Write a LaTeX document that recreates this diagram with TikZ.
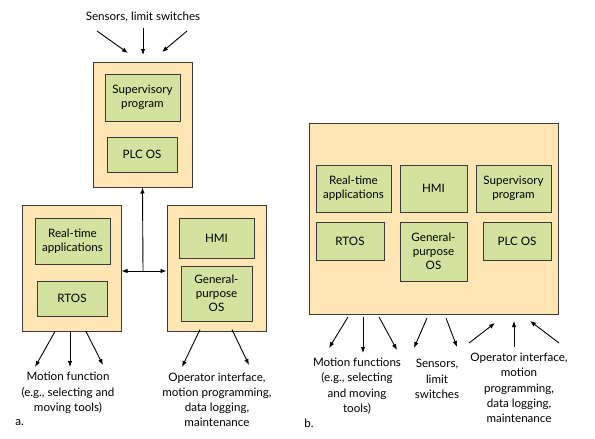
\documentclass[tikz,border=0pt]{standalone}
\usepackage{fontspec}
\setmainfont{Lato}
\usetikzlibrary{arrows.meta}

\definecolor{boxbeige}{HTML}{FFE6B4}
\definecolor{boxgreen}{HTML}{D3E29E}
\definecolor{edgegray}{HTML}{3A3A3A}

\begin{document}
\begin{tikzpicture}[x=1pt, y=-1pt, thick,
                    outer box/.style={draw=edgegray, line width=1pt, fill=boxbeige, inner sep=0pt},
                    inner box/.style={draw=edgegray, line width=1pt, fill=boxgreen, align=center, inner sep=0pt,
                                      font=\fontsize{11.6}{14}\selectfont},
                    label text/.style={align=center, inner sep=0pt, font=\fontsize{11.6}{15.2}\selectfont},
                    arr/.style={-{Latex[length=6pt,width=4.5pt]}, line width=0.9pt, draw=black}]

  \useasboundingbox (0,0) rectangle (595,439);

  % a. three separate controllers
  \node[outer box, minimum width=99pt, minimum height=125pt] (supbox) at (142.5,124.5) {};
  \node[inner box, minimum width=75pt, minimum height=47pt] (supprog) at (142.5,97.5) {Supervisory\\program};
  \node[inner box, minimum width=70pt, minimum height=35pt] (plcos) at (142,154.5) {PLC OS};

  \node[outer box, minimum width=99pt, minimum height=126pt] (rtbox) at (71.5,268) {};
  \node[inner box, minimum width=75pt, minimum height=46pt] (rtapp) at (72.5,241) {Real-time\\applications};
  \node[inner box, minimum width=70pt, minimum height=35pt] (rtos) at (72,298.5) {RTOS};

  \node[outer box, minimum width=99pt, minimum height=126pt] (gpbox) at (216.5,268) {};
  \node[inner box, minimum width=75pt, minimum height=40pt] (hmi) at (216.5,238) {HMI};
  \node[inner box, minimum width=71pt, minimum height=55pt] (gpos) at (216.5,293.5) {General-\\purpose\\OS};

  \coordinate (bus) at (143,271);
  \draw[arr] (bus) -- (supbox.south);
  \draw[arr, {Latex[length=6pt,width=4.5pt]}-{Latex[length=6pt,width=4.5pt]}] (rtbox.east |- bus) -- (gpbox.west |- bus);

  \node[label text] (sensa) at (143,17) {Sensors, limit switches};
  \coordinate (sa1) at (97,31);  \coordinate (ta1) at (128,53);
  \coordinate (sa2) at (143,28); \coordinate (ta2) at (143,55);
  \coordinate (sa3) at (187,31); \coordinate (ta3) at (162,52);
  \path (sa1) edge[arr] (ta1) (sa2) edge[arr] (ta2) (sa3) edge[arr] (ta3);

  \coordinate (ma1) at (35,367); \coordinate (ma2) at (70,367); \coordinate (ma3) at (103,365);
  \path ([xshift=-16.5pt]rtbox.south) edge[arr] (ma1)
        ([xshift=-1.5pt]rtbox.south) edge[arr] (ma2)
        ([xshift=14.5pt]rtbox.south) edge[arr] (ma3);
  \coordinate (oa1) at (182,367); \coordinate (oa2) at (249,365);
  \path ([xshift=-16.5pt,yshift=2pt]gpbox.south) edge[arr] (oa1)
        ([xshift=15.5pt,yshift=2pt]gpbox.south) edge[arr] (oa2);

  \node[label text] (motiona) at (68,393) {Motion function\\(e.g., selecting and\\moving tools)};
  \node[label text] (opera) at (217,400) {Operator interface,\\motion programming,\\data logging,\\maintenance};
  \node[label text, anchor=west] (capa) at (15,423) {a.};

  % b. one integrated controller
  \node[outer box, minimum width=249pt, minimum height=191pt] (bigbox) at (433.5,218.5) {};
  \node[inner box, minimum width=75pt, minimum height=47pt] (rtapp2) at (353.5,188.5) {Real-time\\applications};
  \node[inner box, minimum width=67pt, minimum height=47pt] (hmi2) at (433.5,188.5) {HMI};
  \node[inner box, minimum width=75pt, minimum height=47pt] (supprog2) at (513.5,188.5) {Supervisory\\program};
  \node[inner box, minimum width=68pt, minimum height=38pt] (rtos2) at (350,241) {RTOS};
  \node[inner box, minimum width=67pt, minimum height=59pt] (gpos2) at (433.5,251.5) {General-\\purpose\\OS};
  \node[inner box, minimum width=68pt, minimum height=38pt] (plcos2) at (517,241) {PLC OS};

  \coordinate (sb1) at (348,317); \coordinate (tb1) at (329,348);
  \coordinate (sb2) at (363,317); \coordinate (tb2) at (363,353);
  \coordinate (sb3) at (379,317); \coordinate (tb3) at (397,350);
  \coordinate (sb4) at (427,318); \coordinate (tb4) at (414,348);
  \coordinate (sb5) at (446,318); \coordinate (tb5) at (457,347);
  \coordinate (sb6) at (469,343); \coordinate (tb6) at (495,323);
  \coordinate (sb7) at (514,347); \coordinate (tb7) at (514,321);
  \coordinate (sb8) at (559,343); \coordinate (tb8) at (530,321);
  \path (sb1) edge[arr] (tb1) (sb2) edge[arr] (tb2) (sb3) edge[arr] (tb3)
        (sb4) edge[arr] (tb4) (sb5) edge[arr] (tb5)
        (sb6) edge[arr] (tb6) (sb7) edge[arr] (tb7) (sb8) edge[arr] (tb8);

  \node[label text] (motionb) at (357,386) {Motion functions\\(e.g., selecting\\and moving\\tools)};
  \node[label text] (sensb) at (437,379) {Sensors,\\limit\\switches};
  \node[label text] (operb) at (519,388) {Operator interface,\\motion\\programming,\\data logging,\\maintenance};
  \node[label text, anchor=west] (capb) at (304,423) {b.};

\end{tikzpicture}
\end{document}
